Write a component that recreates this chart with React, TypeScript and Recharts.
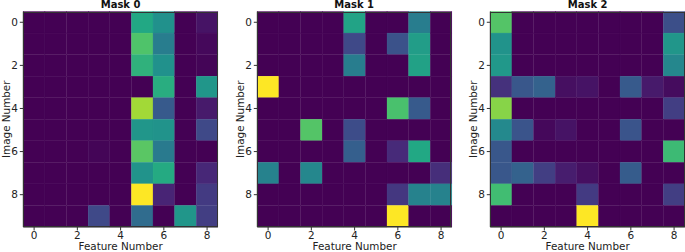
import React from 'react';
import { BarChart, Bar, XAxis, YAxis, Cell } from 'recharts';

const features = [0, 1, 2, 3, 4, 5, 6, 7, 8];
const images = [0, 1, 2, 3, 4, 5, 6, 7, 8, 9];
const featureTicks = [0, 2, 4, 6, 8];
const titles = ['Mask 0', 'Mask 1', 'Mask 2'];

// rows = image number, columns = feature number (normalised 0..1)
const mask0 = [
  [0, 0, 0, 0, 0, 0.6, 0.5, 0, 0.05],
  [0, 0, 0, 0, 0, 0.72, 0.42, 0, 0.02],
  [0, 0, 0, 0, 0, 0.64, 0.5, 0, 0.01],
  [0, 0, 0, 0, 0, 0, 0.62, 0, 0.52],
  [0, 0, 0, 0, 0, 0.86, 0.28, 0, 0.07],
  [0, 0, 0, 0, 0, 0.52, 0.51, 0, 0.22],
  [0, 0, 0, 0.01, 0, 0.74, 0.41, 0, 0],
  [0, 0, 0, 0, 0, 0.51, 0.61, 0, 0.11],
  [0, 0, 0, 0, 0, 1, 0.1, 0, 0.17],
  [0, 0, 0, 0.22, 0, 0.35, 0, 0.52, 0.18],
];

const mask1 = [
  [0, 0, 0, 0, 0.58, 0, 0, 0.42, 0],
  [0, 0, 0, 0, 0.22, 0, 0.25, 0.55, 0],
  [0, 0, 0, 0, 0.42, 0, 0, 0.57, 0],
  [1, 0, 0, 0, 0, 0, 0, 0, 0],
  [0, 0, 0, 0, 0, 0, 0.71, 0.28, 0],
  [0, 0, 0.73, 0, 0.23, 0, 0, 0, 0],
  [0, 0, 0, 0, 0.3, 0, 0.12, 0.6, 0],
  [0.44, 0, 0.46, 0, 0, 0, 0, 0, 0.13],
  [0, 0, 0, 0, 0, 0, 0.16, 0.44, 0.44],
  [0, 0, 0, 0, 0, 0, 1, 0, 0],
];

const mask2 = [
  [0.73, 0, 0, 0, 0, 0, 0, 0, 0.24],
  [0.51, 0, 0, 0, 0, 0, 0, 0, 0.52],
  [0.53, 0, 0, 0, 0, 0, 0, 0, 0.46],
  [0.14, 0.27, 0.31, 0.04, 0.05, 0, 0.28, 0.07, 0.03],
  [0.82, 0, 0, 0, 0, 0, 0, 0, 0.18],
  [0.47, 0.26, 0.02, 0.05, 0, 0, 0.26, 0, 0],
  [0.27, 0, 0, 0, 0, 0, 0, 0, 0.68],
  [0.27, 0.31, 0.18, 0.08, 0.04, 0, 0.29, 0, 0],
  [0.69, 0, 0, 0, 0.17, 0, 0, 0, 0.18],
  [0, 0, 0, 0, 1, 0, 0, 0, 0],
];

const masks = [mask0, mask1, mask2];

const VIRIDIS = [
  '#440154', '#482475', '#414487', '#355f8d', '#2a788e', '#21918c',
  '#22a884', '#44bf70', '#7ad151', '#bddf26', '#fde725',
];

function hexToRgb(h: string) {
  return [1, 3, 5].map((i) => parseInt(h.slice(i, i + 2), 16));
}

function viridis(v: number) {
  const t = Math.max(0, Math.min(1, v)) * (VIRIDIS.length - 1);
  const i = Math.min(Math.floor(t), VIRIDIS.length - 2);
  const f = t - i;
  const a = hexToRgb(VIRIDIS[i]);
  const b = hexToRgb(VIRIDIS[i + 1]);
  const c = a.map((x, k) => Math.round(x + (b[k] - x) * f));
  return `rgb(${c[0]},${c[1]},${c[2]})`;
}

const FONT = '"DejaVu Sans", sans-serif';
const Y_AXIS_W = 23.3;
const PLOT_W = 194.6;
const PLOT_TOP = 11.5;
const PLOT_H = 215.5;
const H = 252;
const ROW_BAND = PLOT_H / images.length;
const chartLefts = [0, 233.6, 467.1];

// recharts truncates bar thickness to whole pixels; stretch each cell to the full row band
const CellShape = (props: any) => {
  const { x, y, width, fill } = props;
  return <rect x={x} y={y} width={width} height={ROW_BAND} fill={fill} stroke={fill} strokeWidth={0.3} />;
};

function Heatmap({ mask, left, title }: { mask: number[][]; left: number; title: string }) {
  const rows = images.map((img) => {
    const r: Record<string, number> = { image: img };
    features.forEach((f) => (r[`f${f}`] = 1));
    return r;
  });
  const width = Y_AXIS_W + PLOT_W;
  return (
    <div style={{ position: 'absolute', left, top: 0, width, height: H }}>
      <BarChart
        width={width}
        height={H}
        data={rows}
        layout="vertical"
        barCategoryGap={0}
        margin={{ top: PLOT_TOP, right: 0, bottom: 0, left: 0 }}
        style={{ fontFamily: FONT }}
      >
        <XAxis
          type="number"
          domain={[0, features.length]}
          ticks={featureTicks.map((t) => t + 0.5)}
          tickFormatter={(v: number) => String(v - 0.5)}
          height={H - PLOT_TOP - PLOT_H}
          tickSize={3.5}
          tickMargin={1.2}
          stroke="#333"
          tick={{ fill: '#222', fontSize: 10.5 }}
          label={{ value: 'Feature Number', position: 'insideBottom', offset: 1.5, fill: '#222', fontSize: 10.4 }}
        />
        <YAxis
          type="category"
          dataKey="image"
          width={Y_AXIS_W}
          interval={1}
          tickSize={3.5}
          tickMargin={2}
          stroke="#333"
          tick={{ fill: '#222', fontSize: 10.5 }}
          label={{
            value: 'Image Number',
            angle: -90,
            position: 'insideLeft',
            offset: 6,
            fill: '#222',
            fontSize: 10.4,
            style: { textAnchor: 'middle' },
          }}
        />
        {features.map((f) => (
          <Bar key={f} dataKey={`f${f}`} stackId="cells" isAnimationActive={false} shape={CellShape}>
            {images.map((img) => (
              <Cell key={img} fill={viridis(mask[img][f])} />
            ))}
          </Bar>
        ))}
      </BarChart>
      <div
        style={{
          position: 'absolute',
          left: Y_AXIS_W,
          top: PLOT_TOP,
          width: PLOT_W,
          height: PLOT_H,
          boxSizing: 'border-box',
          border: '0.8px solid #333',
          pointerEvents: 'none',
        }}
      />
      <div
        style={{
          position: 'absolute',
          left: Y_AXIS_W,
          top: -0.5,
          width: PLOT_W,
          textAlign: 'center',
          fontFamily: FONT,
          fontWeight: 'bold',
          fontSize: 10,
          lineHeight: '10px',
          color: '#111',
        }}
      >
        {title}
      </div>
    </div>
  );
}

export default function App() {
  return (
    <div style={{ position: 'absolute', left: 0, top: 0, width: 685, height: H, background: '#fff', overflow: 'hidden' }}>
      <style>{'svg { overflow: visible; }'}</style>
      {masks.map((m, i) => (
        <Heatmap key={i} mask={m} left={chartLefts[i]} title={titles[i]} />
      ))}
    </div>
  );
}
